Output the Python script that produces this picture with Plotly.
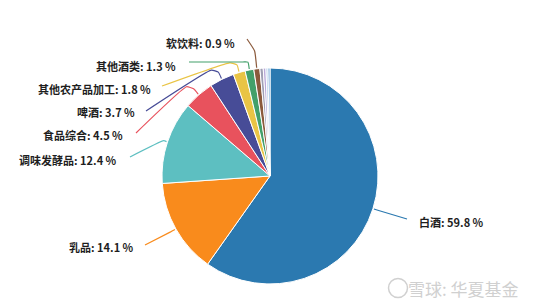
import math
import plotly.graph_objects as go

# ---- data ----
categories = ["白酒", "乳品", "调味发酵品", "食品综合", "啤酒", "其他农产品加工",
              "其他酒类", "软饮料", "小类A", "小类B", "小类C", "小类D"]
values = [59.8, 14.1, 12.4, 4.5, 3.7, 1.8, 1.3, 0.9, 0.5, 0.4, 0.3, 0.3]
colors = ["#2b79b0", "#f98b1c", "#5dbfc1", "#e8525d", "#474c97", "#e9c445",
          "#43a06a", "#8b5a3c", "#a09fb4", "#b9a9d9", "#a9c9ea", "#6fa6d8"]
labelled = 8  # first 8 slices have labels

# ---- layout (pixel geometry) ----
W, H = 534, 302
CX, CY, R = 270, 176, 108
label_pos = {
    "白酒": dict(tx=417, ty=222, side="left", lx=407, ly=219),
    "乳品": dict(tx=136, ty=247, side="right", lx=145, ly=245),
    "调味发酵品": dict(tx=119, ty=160, side="right", lx=130, ly=157),
    "食品综合": dict(tx=125, ty=135, side="right", lx=136, ly=133),
    "啤酒": dict(tx=137, ty=112, side="right", lx=146, ly=111),
    "其他农产品加工": dict(tx=153, ty=89, side="right", lx=162, ly=86),
    "其他酒类": dict(tx=178, ty=66, side="right", lx=189, ly=62),
    "软饮料": dict(tx=237, ty=43, side="right", lx=247, ly=39),
}
elbow = {"白酒": 6, "乳品": 6, "调味发酵品": 4, "食品综合": 8, "啤酒": 8,
         "其他农产品加工": 8, "其他酒类": 8, "软饮料": 18}

fig = go.Figure()

total = sum(values)
cum = 0.0
annotations = []
for i, (name, v) in enumerate(zip(categories, values)):
    mid = (cum + v / 2) / total * 360.0
    cum += v
    if i >= labelled:
        continue
    a = math.radians(mid)
    p = label_pos[name]
    x0 = CX + (R + 1) * math.sin(a)
    y0 = CY - (R + 1) * math.cos(a)
    re = R + elbow[name]
    x1 = CX + re * math.sin(a)
    y1 = CY - re * math.cos(a)
    xs, ys = [x0, x1], [y0, y1]
    if name == "其他酒类":
        xs += [x1 - 5, p["lx"]]
        ys += [p["ly"], p["ly"]]
    elif name in ("啤酒", "食品综合", "其他农产品加工"):
        xs += [x1 - 7, p["lx"]]
        ys += [y1 - 2, p["ly"]]
    else:
        xs += [p["lx"]]
        ys += [p["ly"]]
    fig.add_trace(go.Scatter(x=xs, y=ys, mode="lines",
                             line=dict(color=colors[i], width=1.2, shape="spline", smoothing=0.4),
                             hoverinfo="skip", showlegend=False, xaxis="x", yaxis="y"))
    txt = f"{name}: {v:.1f} %"
    annotations.append(dict(x=p["tx"], y=p["ty"], xref="x", yref="y", text=f"<b>{txt}</b>",
                            showarrow=False,
                            xanchor="left" if p["side"] == "left" else "right",
                            yanchor="middle",
                            font=dict(size=11, color="#1e1e1e", family="Noto Sans CJK SC")))

fig.add_trace(go.Pie(
    labels=categories, values=values, sort=False, direction="clockwise", rotation=0,
    marker=dict(colors=colors, line=dict(color="white", width=1)),
    textinfo="none", showlegend=False,
    domain=dict(x=[(CX - R) / W, (CX + R) / W], y=[(H - CY - R) / H, (H - CY + R) / H]),
))

# watermark
annotations.append(dict(x=463, y=288, xref="x", yref="y", text="雪球: 华夏基金",
                        showarrow=False, xanchor="center", yanchor="middle",
                        font=dict(size=17, color="#d0d0d0", family="Noto Sans CJK SC")))
fig.add_trace(go.Scatter(x=[398], y=[288], mode="markers",
                         marker=dict(size=19, color="rgba(0,0,0,0)", line=dict(color="#d0d0d0", width=1.5)),
                         hoverinfo="skip", showlegend=False))

fig.update_layout(
    width=W, height=H, margin=dict(l=0, r=0, t=0, b=0),
    paper_bgcolor="white", plot_bgcolor="white",
    xaxis=dict(range=[0, W], visible=False, fixedrange=True, domain=[0, 1]),
    yaxis=dict(range=[H, 0], visible=False, fixedrange=True, domain=[0, 1]),
    annotations=annotations,
)

fig.write_html("out.html")
